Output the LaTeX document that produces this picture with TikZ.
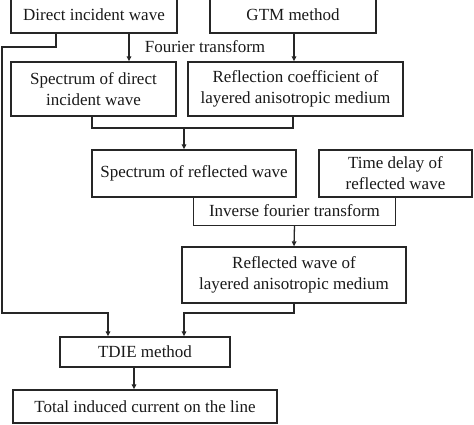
\documentclass[tikz,border=0pt]{standalone}
\usepackage{fontspec}
\setmainfont{Liberation Serif}
\usetikzlibrary{arrows.meta,calc}
\begin{document}
\begin{tikzpicture}[x=1pt,y=-1pt,
  box/.style={draw=black!85, line width=1.3pt, inner sep=0pt, align=center,
    font=\fontsize{17}{21}\selectfont, text=black!90},
  lbl/.style={inner sep=0pt, align=center, font=\fontsize{17}{21}\selectfont, text=black!90},
  conn/.style={draw=black!85, line width=1.3pt},
  arr/.style={conn, -{Triangle[length=5pt,width=4.5pt]}}]
\useasboundingbox (0,0) rectangle (474,424);
\node[box, minimum width=166pt, minimum height=36pt] (b1) at (94,15) {Direct incident wave};
\node[box, minimum width=166pt, minimum height=36pt] (b2) at (293,15) {GTM method};
\node[lbl] (ft) at (205,47) {Fourier transform};
\node[box, minimum width=165pt, minimum height=54pt] (b3) at (93.5,89) {Spectrum of direct\\incident wave};
\node[box, minimum width=215pt, minimum height=54pt] (b4) at (295.5,89) {Reflection coefficient of\\layered anisotropic medium};
\node[box, minimum width=204pt, minimum height=47pt] (b5) at (194,173.5) {Spectrum of reflected wave};
\node[box, minimum width=153pt, minimum height=47pt] (b6) at (395.5,173.5) {Time delay of\\reflected wave};
\node[lbl, minimum width=201pt, minimum height=28pt] (b7) at (294.5,211) {Inverse fourier transform};
\node[box, minimum width=224pt, minimum height=56pt] (b8) at (294,275) {Reflected wave of\\layered anisotropic medium};
\node[box, minimum width=170pt, minimum height=30pt] (b9) at (145,352) {TDIE method};
\node[box, minimum width=264pt, minimum height=33pt] (b10) at (145,406.5) {Total induced current on the line};
% coordinates
\coordinate (xa) at (129,0);
\coordinate (xb) at (294,0);
\coordinate (p3) at (92,128);
\coordinate (p4) at (293,128);
\coordinate (p5) at (184,128);
\coordinate (q1) at (294,313);
\coordinate (q2) at (184,313);
\coordinate (r1) at (56,47);
\coordinate (r2) at (2,47);
\coordinate (r3) at (2,313);
\coordinate (r4) at (108,313);
\coordinate (s1) at (134,0);
% connectors
\draw[arr] (b1.south -| xa) -- (b3.north -| xa);
\draw[arr] (b2.south -| xb) -- (b4.north -| xb);
\draw[conn] (b3.south -| p3) -- (p3) -- (p4) -- (b4.south -| p4);
\draw[arr] (p5) -- (b5.north -| p5);
\draw[conn] (b5.south -| b7.west) -- (b7.south west) -- (b7.south east) -- (b6.south -| b7.east);
\draw[arr] (b7.south) -- (b8.north);
\draw[arr] (b8.south -| q1) -- (q1) -- (q2) -- (b9.north -| q2);
\draw[arr] (b1.south -| r1) -- (r1) -- (r2) -- (r3) -- (r4) -- (b9.north -| r4);
\draw[arr] (b9.south -| s1) -- (b10.north -| s1);
\end{tikzpicture}
\end{document}
